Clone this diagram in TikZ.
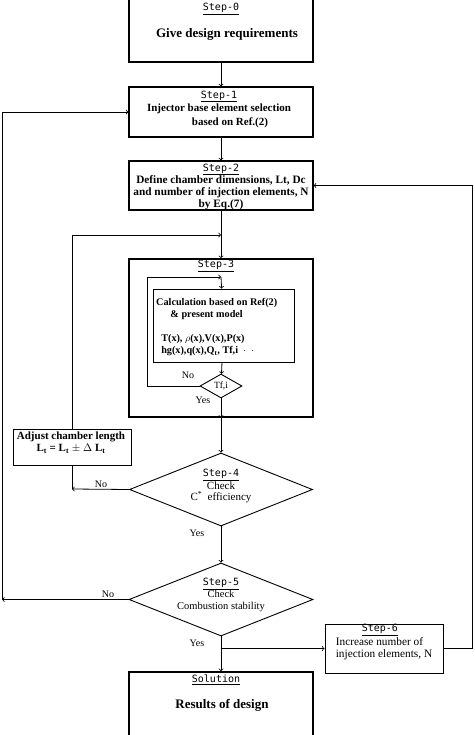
\documentclass[tikz,border=0pt]{standalone}
\usepackage{fontspec}
\setmainfont{Liberation Serif}
\newfontfamily\stepfont{DejaVu Sans Mono}
\usetikzlibrary{shapes.geometric}
\newcommand{\stp}[1]{\underline{\mdseries\stepfont\fontsize{10}{12}\selectfont #1}}

\begin{document}
\begin{tikzpicture}[x=1pt,y=-1pt]

\tikzset{box/.style = {shape=rectangle,draw,line width=1.2pt,inner sep=0pt}}
\tikzset{decision/.style = {shape=diamond,draw,line width=0.9pt,inner sep=0pt}}
\tikzset{txt/.style = {align=center,inner sep=0pt,font=\fontsize{10}{12.5}\selectfont}}
\tikzset{edge/.style = {->,> = to,line width=0.8pt}}
\useasboundingbox (0,0) rectangle (474,735);
%boxes
\node[box, line width=2.5pt, minimum width=184, minimum height=66] (s0) at (221,29) {};
\node[txt] (s0t) at (221,9) {\stp{Step-0}};
\node[txt, font=\bfseries\fontsize{13}{15}\selectfont] (s0g) at (227,34) {Give design requirements};
\node[box, minimum width=184, minimum height=50] (s1) at (221,112) {};
\node[txt, font=\bfseries\fontsize{11}{13.5}\selectfont] (s1t) at (219,109) {\stp{Step-1}\\ Injector base element selection\\ \hspace{2em}based on Ref.(2)};
\node[box, minimum width=184, minimum height=49] (s2) at (221,185.5) {};
\node[txt, font=\bfseries\fontsize{11.3}{12.2}\selectfont] (s2t) at (221,187) {\stp{Step-2}\\ Define chamber dimensions, Lt, Dc\\ and number of injection elements, N\\ by Eq.(7)};
\node[box, line width=1.6pt, minimum width=184, minimum height=158] (s3) at (221,338) {};
\node[txt] (s3t) at (216,266) {\stp{Step-3}};
\node[box, line width=0.8pt, minimum width=141, minimum height=73] (calc) at (223.5,325.5) {};
\node[txt, align=left, anchor=west, font=\bfseries\fontsize{10.2}{12}\selectfont] (calct) at (156,327.5) {Calculation based on Ref(2)\\ \hspace{1.4em}\& present model\\[12pt] \hspace{0.5em}T(x), $\rho$(x),V(x),P(x)\\ \hspace{0.5em}hg(x),q(x),Q\textsubscript{t}, Tf,i \ \textbf{$\cdot$} \ \textbf{$\cdot$}};
\node[decision, minimum width=42, minimum height=24] (tf) at (221,386) {};
\node[txt, font=\fontsize{9.5}{11}\selectfont] (tft) at (221,386) {Tf,i};
\node[box, line width=1pt, minimum width=118, minimum height=36] (adj) at (72,447) {};
\node[txt, font=\bfseries\fontsize{11}{12}\selectfont] (adjt) at (71,443) {Adjust chamber length\\ L\textsubscript{t} = L\textsubscript{t} $\pm$ $\Delta$ L\textsubscript{t}\hspace{1.5em}};
\node[decision, minimum width=183, minimum height=73] (s4) at (221,489.5) {};
\node[txt, font=\fontsize{11}{11.5}\selectfont] (s4t) at (221,486) {\stp{Step-4}\\ Check\\ C\textsuperscript{*}\ \ efficiency};
\node[decision, minimum width=184, minimum height=73] (s5) at (221,599.5) {};
\node[txt, font=\fontsize{10.5}{12}\selectfont] (s5t) at (221,595) {\stp{Step-5}\\ Check\\ Combustion stability};
\node[box, line width=1pt, minimum width=118, minimum height=49] (s6) at (384,648.5) {};
\node[txt, align=left, font=\fontsize{11.3}{12}\selectfont] (s6t) at (384,642) {\hspace{2.3em}\stp{Step-6}\\ Increase number of\\ injection elements, N};
\node[box, line width=1.6pt, minimum width=184, minimum height=80] (sol) at (221,712) {};
\node[txt] (solt) at (216,680) {\stp{Solution}};
\node[txt, font=\bfseries\fontsize{13}{15}\selectfont] (solr) at (222,705) {Results of design};
%labels
\node[txt] (no3) at (188,375) {No};
\node[txt] (yes3) at (203,400) {Yes};
\node[txt] (no4l) at (101,484) {No};
\node[txt] (yes4) at (197,533) {Yes};
\node[txt] (no5l) at (108,594) {No};
\node[txt] (yes5) at (197,643) {Yes};
%points
\coordinate (j3) at (221,235);
\coordinate (k3) at (221,277);
\coordinate (lp) at (147,386);
\coordinate (no4) at (72,489);
\coordinate (no5) at (2,599.5);
\coordinate (j5) at (221,648.5);
\coordinate (rt) at (472,648.5);
%edges
\draw [edge] (s0) -- (s1);
\draw [edge] (s1) -- (s2);
\draw [edge] (s2) -- (s3);
\draw [edge] (adj.north) |- (j3);
\draw [edge] (k3) -- (calc);
\draw [edge] (calc) -- (tf);
\draw [edge] (tf.west) -- (lp) |- (k3);
\draw [edge] (tf) -- (s3.south);
\draw [edge] (s3) -- (s4);
\draw [edge] (s4.west) -- (no4);
\draw [line width=0.8pt] (no4) -- (adj.south);
\draw [edge] (s4) -- (s5);
\draw [edge] (s5.west) -- (no5);
\draw [edge] (no5) |- (s1.west);
\draw [edge] (s5) -- (sol);
\draw [edge] (j5) -- (s6);
\draw [edge] (s6.east) -- (rt) |- (s2.east);

\end{tikzpicture}
\end{document}
